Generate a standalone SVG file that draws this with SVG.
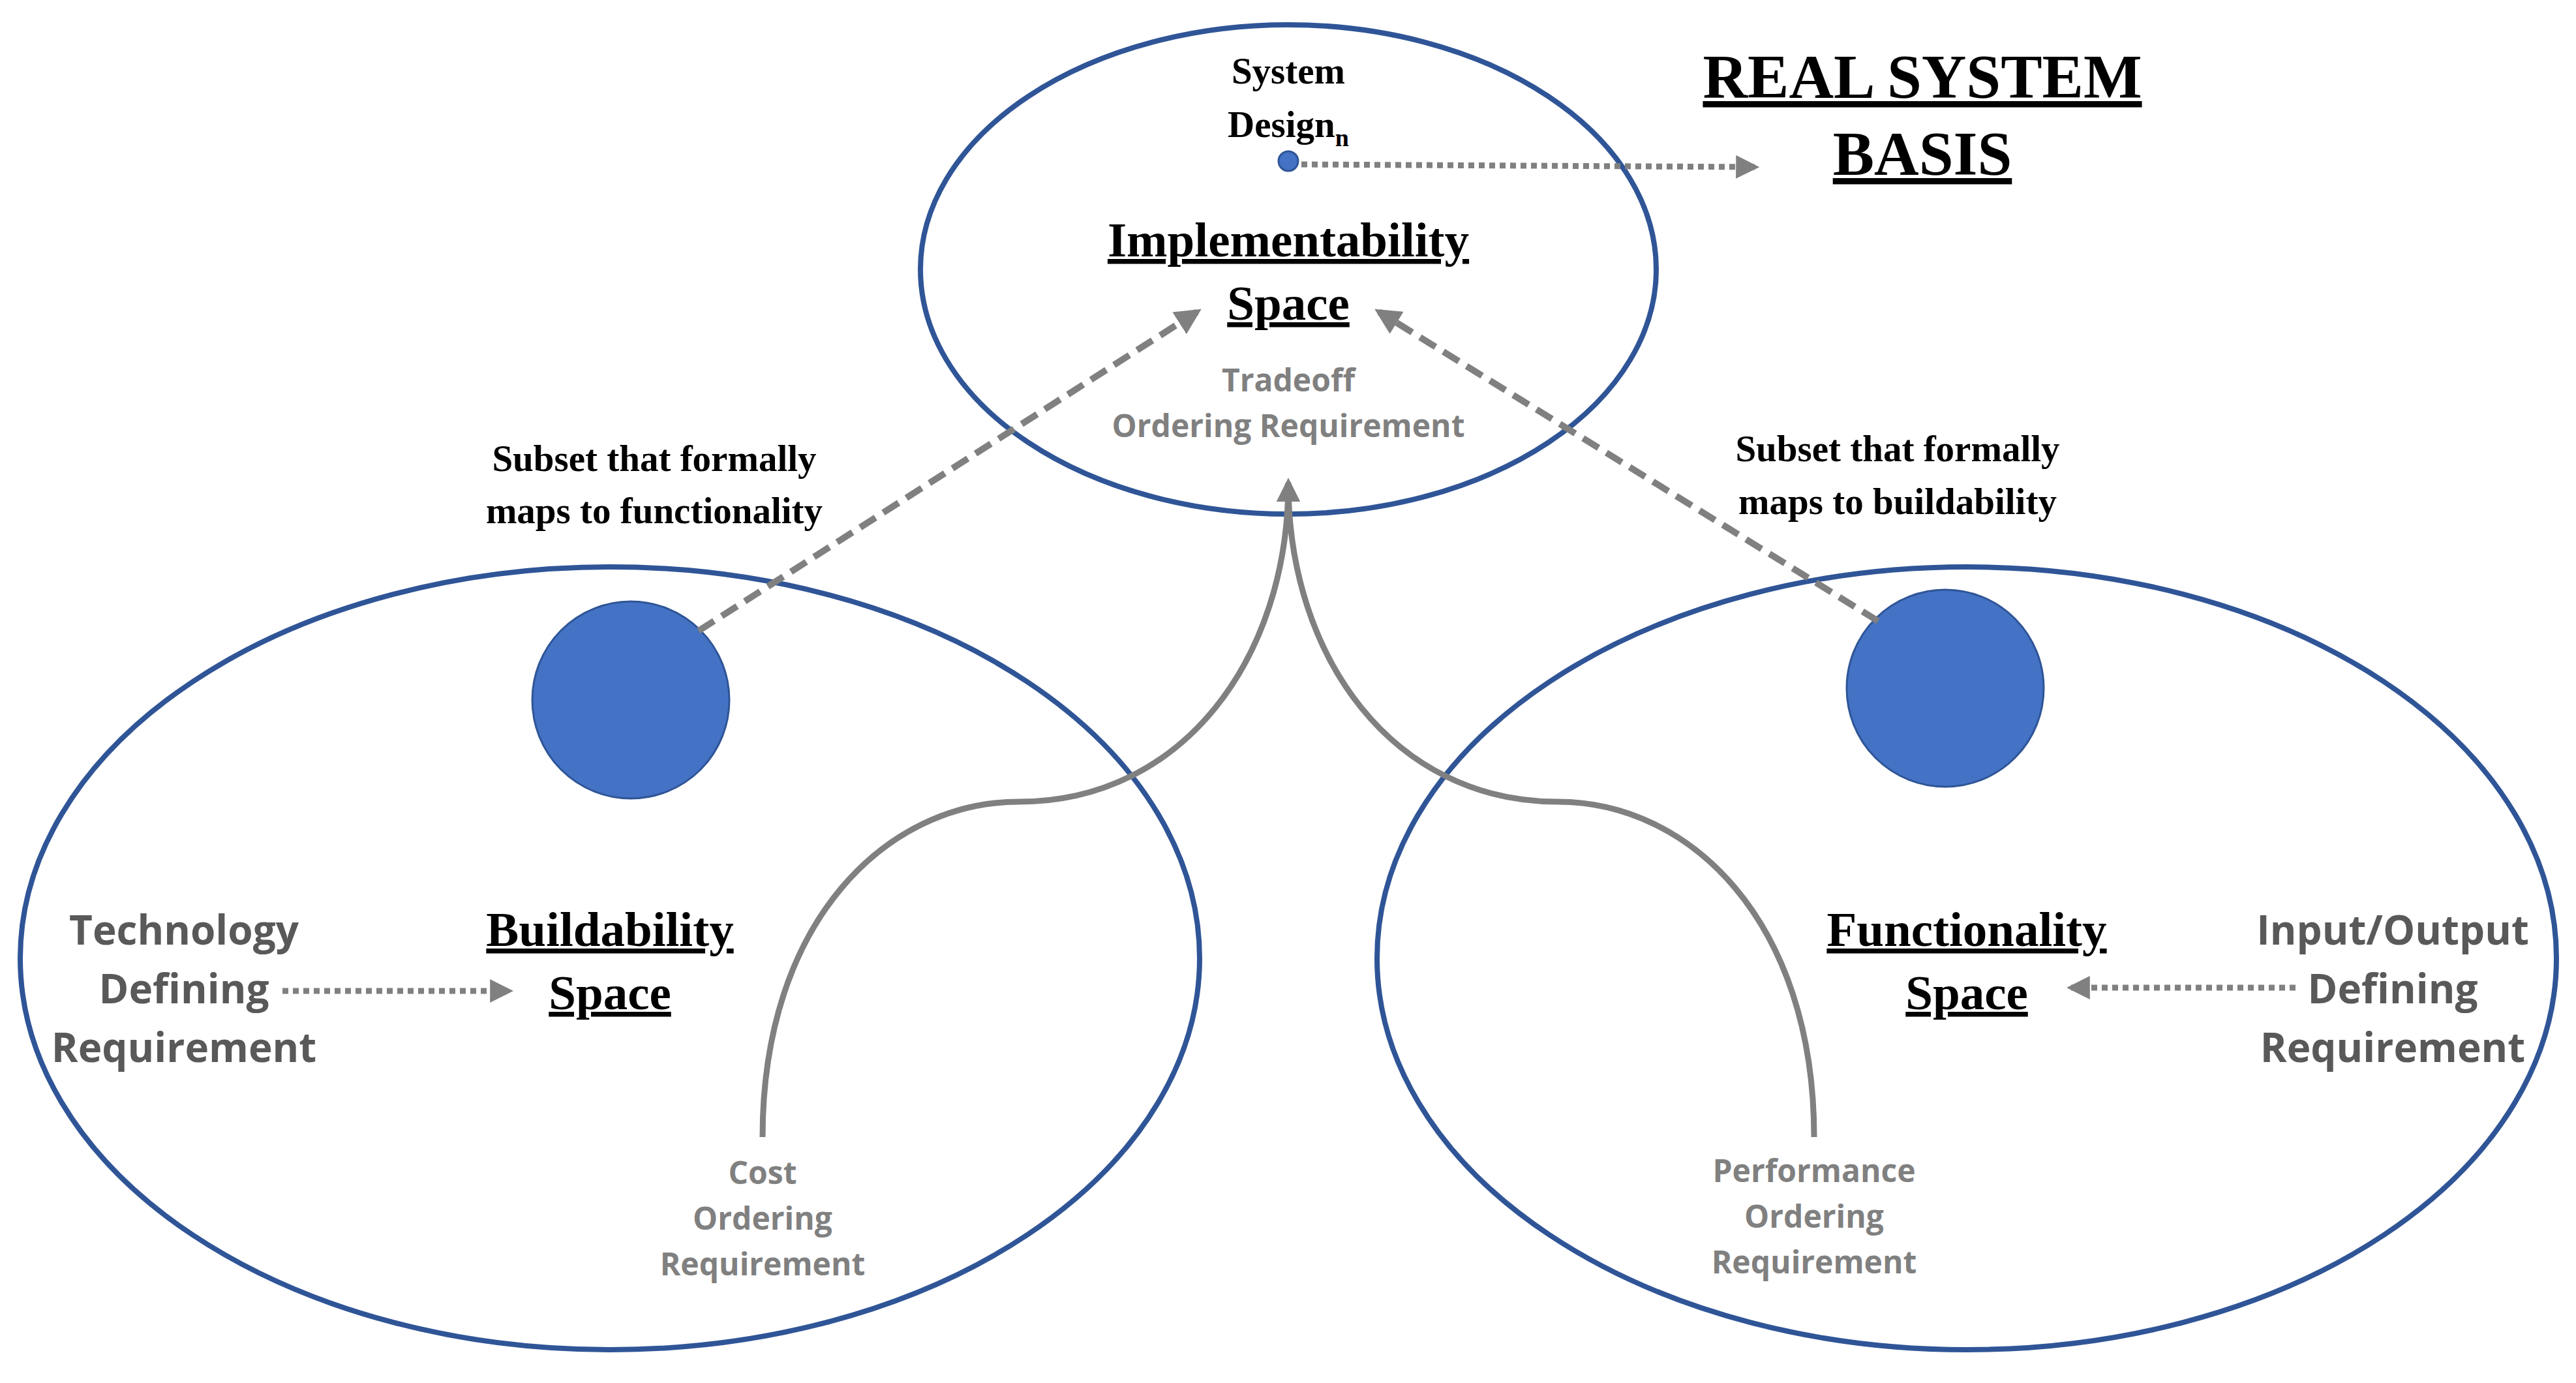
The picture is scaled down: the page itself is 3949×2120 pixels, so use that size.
<svg xmlns="http://www.w3.org/2000/svg" width="3949" height="2120" viewBox="0 0 3949 2120">
<style>
.ell{fill:none;stroke:#2F5597;stroke-width:8}
.blob{fill:#4472C4;stroke:#2F5597;stroke-width:3}
.ser{font-family:"Liberation Serif",serif;font-weight:bold;fill:#000;text-anchor:middle}
.title{font-size:75px;text-decoration:underline}
.big{font-size:95px;text-decoration:underline}
.lab{font-size:57px}
.gr{font-family:"Open Sans","Liberation Sans",sans-serif;font-weight:bold;text-anchor:middle}
.req{font-size:62px;fill:#595959}
.sm{font-size:48px;fill:#808080}
.dash{fill:none;stroke:#808080;stroke-width:10;stroke-dasharray:28,14}
.dot{fill:none;stroke:#808080;stroke-width:9;stroke-dasharray:9,7}
.curve{fill:none;stroke:#808080;stroke-width:9}
</style>
<defs>
<marker id="ah" viewBox="0 0 10 10" refX="8" refY="5" markerWidth="4" markerHeight="4" orient="auto" markerUnits="strokeWidth">
<path d="M0,0 L10,5 L0,10 z" fill="#808080"/>
</marker>
</defs>
<rect width="3949" height="2120" fill="#fff"/>
<g id="implementability">
<ellipse class="ell" cx="1975" cy="413" rx="564" ry="375"/>
<circle cx="1975" cy="247" r="15" class="blob"/>
<text class="ser lab" x="1975" y="128">System</text>
<text class="ser lab" x="1975" y="210">Design<tspan font-size="38" dy="14">n</tspan></text>
<text class="ser title" x="1975" y="393">Implementability</text>
<text class="ser title" x="1975" y="490">Space</text>
<text class="gr sm" x="1975" y="600">Tradeoff</text>
<text class="gr sm" x="1975" y="670">Ordering Requirement</text>
</g>
<g id="realbasis">
<text class="ser big" x="2947" y="150">REAL SYSTEM</text>
<text class="ser big" x="2947" y="268">BASIS</text>
</g>
<g id="buildability">
<ellipse class="ell" cx="935" cy="1469" rx="904" ry="600"/>
<circle cx="967" cy="1073" r="151" class="blob"/>
<text class="ser title" x="935" y="1450">Buildability</text>
<text class="ser title" x="935" y="1547">Space</text>
</g>
<g id="functionality">
<ellipse class="ell" cx="3015" cy="1469" rx="904" ry="600"/>
<circle cx="2982" cy="1055" r="151" class="blob"/>
<text class="ser title" x="3015" y="1450">Functionality</text>
<text class="ser title" x="3015" y="1547">Space</text>
</g>
<g id="technology">
<text class="gr req" x="282" y="1448">Technology</text>
<text class="gr req" x="282" y="1538">Defining</text>
<text class="gr req" x="282" y="1628">Requirement</text>
</g>
<g id="inputoutput">
<text class="gr req" x="3668" y="1448">Input/Output</text>
<text class="gr req" x="3668" y="1538">Defining</text>
<text class="gr req" x="3668" y="1628">Requirement</text>
</g>
<g id="cost">
<text class="gr sm" x="1169" y="1815">Cost</text>
<text class="gr sm" x="1169" y="1885">Ordering</text>
<text class="gr sm" x="1169" y="1955">Requirement</text>
</g>
<g id="performance">
<text class="gr sm" x="2781" y="1812">Performance</text>
<text class="gr sm" x="2781" y="1882">Ordering</text>
<text class="gr sm" x="2781" y="1952">Requirement</text>
</g>
<g id="labels">
<text class="ser lab" x="1003" y="722">Subset that formally</text>
<text class="ser lab" x="1003" y="802">maps to functionality</text>
<text class="ser lab" x="2909" y="707">Subset that formally</text>
<text class="ser lab" x="2909" y="788">maps to buildability</text>
</g>
<g id="connectors">
<path class="curve" d="M1169,1743 C1169,1411 1360,1229 1562,1229 C1814,1229 1975,1008 1975,740" marker-end="url(#ah)"/>
<path class="curve" d="M2781,1743 C2781,1411 2590,1229 2388,1229 C2136,1229 1975,1008 1975,740" marker-end="url(#ah)"/>
<path class="dash" d="M1071,967 L1835,478" marker-end="url(#ah)"/>
<path class="dash" d="M2879,952 L2114,478" marker-end="url(#ah)"/>
<path class="dot" d="M1995,252 L2690,256" marker-end="url(#ah)"/>
<path class="dot" d="M433,1519 L780,1519" marker-end="url(#ah)"/>
<path class="dot" d="M3519,1514 L3175,1514" marker-end="url(#ah)"/>
</g>
</svg>
